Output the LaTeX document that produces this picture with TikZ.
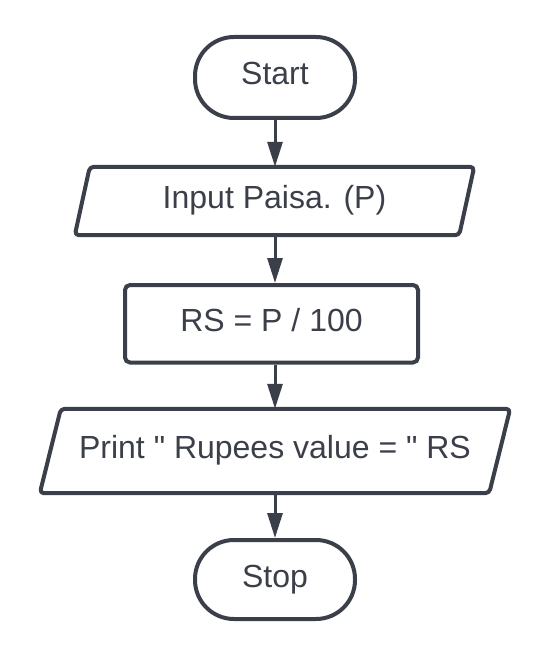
\documentclass[tikz,border=0pt]{standalone}
\usepackage{fontspec}
\setmainfont{Liberation Sans}[Ligatures=TeXOff]
\usetikzlibrary{arrows.meta,calc}
\definecolor{ink}{RGB}{59,63,74}
\begin{document}
\begin{tikzpicture}[x=1pt,y=-1pt,
  base/.style={inner sep=0pt, text=ink, font=\fontsize{32}{37}\selectfont,
    text height=22pt, text depth=7pt},
  term/.style={base, draw=ink, line width=4pt, rounded corners=39pt},
  procbox/.style={base, draw=ink, line width=4pt, rounded corners=5pt},
  iobox/.style={base},
  ioline/.style={draw=ink, line width=4pt, rounded corners=4pt, line join=round},
  arr/.style={draw=ink, line width=3pt, -{Triangle[width=15pt,length=25pt]}}]
\useasboundingbox (0,0) rectangle (550,658);
\node[term, minimum width=160pt, minimum height=81pt] (start) at (275,77.5) {Start};
\node[iobox, minimum width=399pt, minimum height=68pt] (input) at (274.5,201) {Input Paisa. (P)};
\draw[ioline] ($(input.north west)+(15,0)$) -- (input.north east) -- ($(input.south east)+(-15,0)$) -- (input.south west) -- cycle;
\node[procbox, minimum width=293pt, minimum height=77.5pt] (rs) at (271.5,323.75) {RS = P / 100};
\node[iobox, minimum width=470pt, minimum height=84pt] (print) at (275,451) {Print " Rupees value = " RS};
\draw[ioline] ($(print.north west)+(21,0)$) -- (print.north east) -- ($(print.south east)+(-21,0)$) -- (print.south west) -- cycle;
\node[term, minimum width=160pt, minimum height=79pt] (stop) at (275,579.5) {Stop};
\draw[arr] (start.south) -- (start.south |- input.north);
\draw[arr] (start.south |- input.south) -- (start.south |- rs.north);
\draw[arr] (start.south |- rs.south) -- (start.south |- print.north);
\draw[arr] (start.south |- print.south) -- (stop.north);
\end{tikzpicture}
\end{document}
